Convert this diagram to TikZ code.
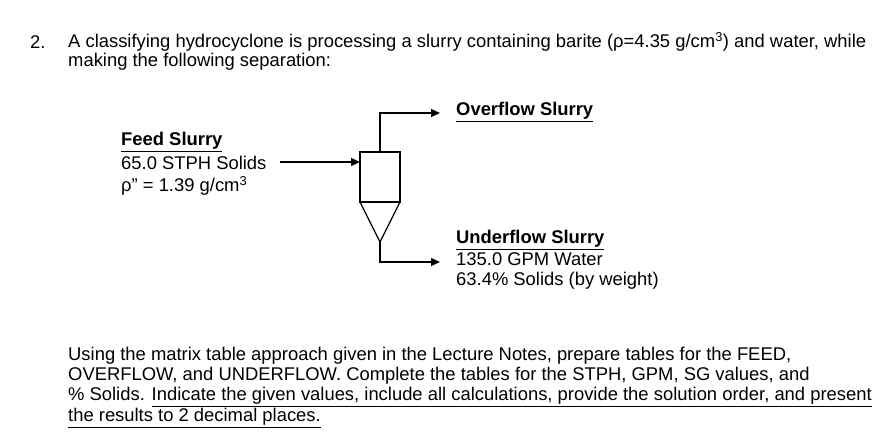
\documentclass[tikz,border=0pt]{standalone}
\usepackage{fontspec}
\setmainfont{Liberation Sans}
\usetikzlibrary{arrows.meta}
\begin{document}
\begin{tikzpicture}[x=1pt,y=-1pt,
  txt/.style={anchor=west,inner sep=0pt,font=\fontsize{18.4}{22}\selectfont},
  ln/.style={line width=1.2pt},
  arr/.style={ln,-{Triangle[length=9pt,width=8pt]}}]
\useasboundingbox (0,0) rectangle (891,444);
\node[txt] (n2) at (30,42) {2.};
\node[txt] (l1) at (68,42) {A classifying hydrocyclone is processing a slurry containing barite (ρ=4.35 g/cm\textsuperscript{3}) and water, while};
\node[txt] (l2) at (68,62) {making the following separation:};
\node[txt] (f1) at (121,142) {\underline{\textbf{Feed Slurry}}};
\node[txt] (f2) at (121,163) {65.0 STPH Solids};
\node[txt] (f3) at (121,186) {ρ'' = 1.39 g/cm\textsuperscript{3}};
\node[txt] (o1) at (456,112) {\underline{\textbf{Overflow Slurry}}};
\node[txt] (u1) at (456,240) {\underline{\textbf{Underflow Slurry}}};
\node[txt] (u2) at (456,259) {135.0 GPM Water};
\node[txt] (u3) at (456,281) {63.4\% Solids (by weight)};
\node[txt] (p1) at (68,356) {Using the matrix table approach given in the Lecture Notes, prepare tables for the FEED,};
\node[txt] (p2) at (68,376) {OVERFLOW, and UNDERFLOW. Complete the tables for the STPH, GPM, SG values, and};
\node[txt] (p3) at (68,397) {\% Solids. \underline{Indicate the given values, include all calculations, provide the solution order, and present}};
\node[txt] (p4) at (68,418) {\underline{the results to 2 decimal places.}};
\draw[ln] (360,152) rectangle (400,202);
\draw[ln] (360,202) -- (380,242) -- (400,202);
\coordinate (top) at (380,152);
\coordinate (tip) at (380,242);
\coordinate (fs) at (280,162);
\coordinate (fe) at (360,162);
\draw[arr] (fs) -- (fe);
\draw[arr] (top) |- (440,113);
\draw[arr] (tip) |- (440,262);
\end{tikzpicture}
\end{document}
